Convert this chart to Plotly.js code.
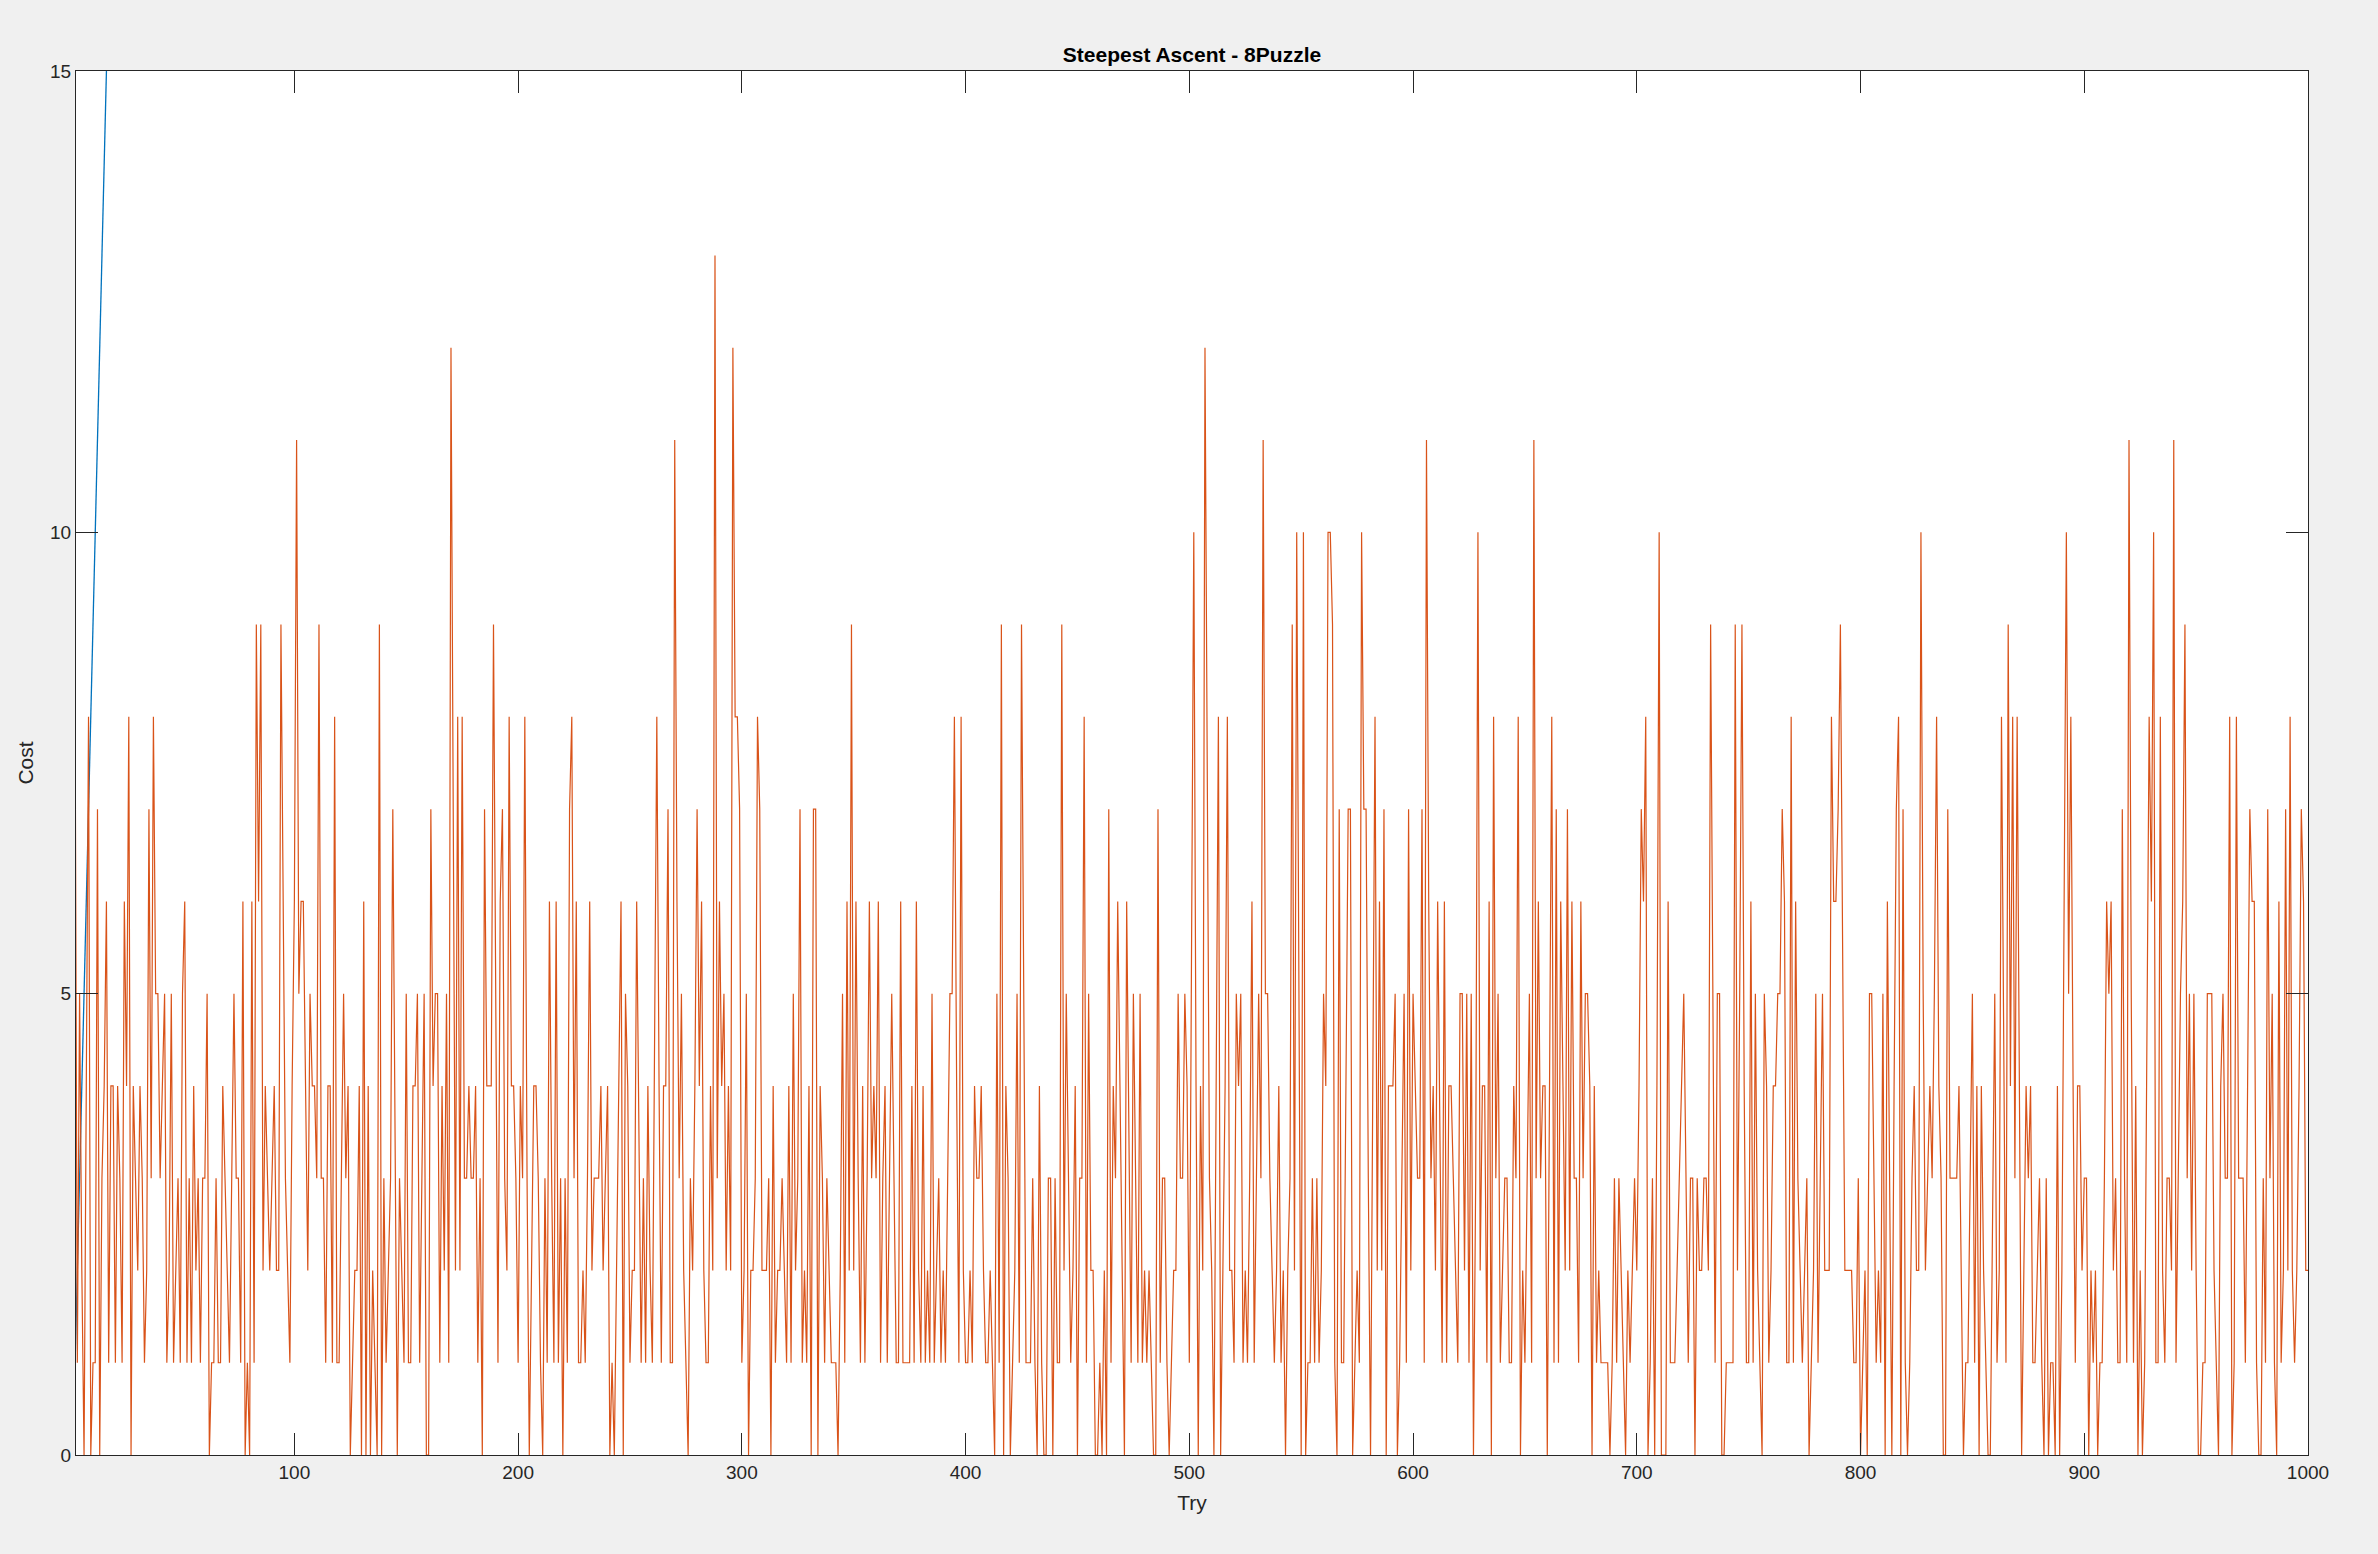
<!DOCTYPE html>
<html>
<head>
<meta charset="utf-8">
<script src="https://cdn.plot.ly/plotly-3.0.1.min.js"></script>
<style>html,body{margin:0;padding:0;background:#f0f0f0;}#chart{width:2378px;height:1554px;}</style>
</head>
<body>
<div id="chart"></div>
<script>
// Cost per try, in blocks of 100 tries
const cost001 = [1,8,1,5,2,0,4,8,0,1, 1,7,0,3,4,6,1,4,4,1, 4,3,1,6,4,8,0,4,3,2, 4,3,1,2,7,3,8,5,5,3, 4,5,1,2,5,1,2,3,1,5,
                 6,1,3,1,4,2,3,1,3,3, 5,0,1,1,3,1,1,4,3,2, 1,3,5,3,3,1,6,0,1,0, 6,1,9,6,9,2,4,3,2,3, 4,2,2,9,6,3,2,1,4,6];
const cost101 = [11,5,6,6,4,2,5,4,4,3, 9,3,3,1,4,4,1,8,1,1, 3,5,3,4,0,1,2,2,4,0, 6,0,4,0,2,1,0,9,0,3, 1,2,3,7,3,0,3,2,1,5,
                 1,1,4,4,5,1,3,5,0,0, 7,4,5,5,1,4,2,5,1,12, 7,2,8,2,8,3,3,4,3,3, 4,1,3,0,7,4,4,4,9,5, 1,6,7,3,2,8,4,4,3,1];
const cost201 = [4,3,8,3,0,2,4,4,3,1, 0,3,1,6,3,1,6,1,3,0, 3,1,7,8,3,6,1,1,2,1, 3,6,2,3,3,3,4,2,3,4, 0,1,0,2,4,6,0,5,4,1,
                 2,2,6,3,1,3,1,4,2,1, 4,8,4,1,4,4,7,1,1,11, 6,3,5,2,1,0,3,2,4,7, 4,6,2,1,1,4,2,13,3,6, 4,5,2,4,2,12,8,8,7,1];
const cost301 = [2,5,0,2,2,3,8,7,2,2, 2,3,0,4,1,2,2,3,2,1, 4,1,5,2,3,7,1,2,1,4, 0,7,7,0,4,3,1,3,2,1, 1,1,0,2,5,1,6,2,9,2,
                 6,3,1,4,1,3,6,3,4,3, 6,1,3,4,1,3,5,3,1,1, 6,1,1,1,1,4,1,6,2,1, 4,1,2,1,5,1,2,3,1,2, 1,3,5,5,8,4,1,8,2,1];
const cost401 = [1,2,1,4,3,3,4,2,1,1, 2,1,0,5,1,9,0,4,3,0, 1,2,5,1,9,5,1,1,1,3, 1,0,4,1,0,0,3,3,0,3, 1,1,9,2,5,3,1,2,4,0,
                 3,3,8,1,5,2,2,0,0,1, 0,2,0,7,1,4,3,6,4,2, 0,6,3,1,5,3,1,5,1,2, 1,2,1,0,0,7,1,3,3,1, 0,1,2,2,5,3,3,5,4,1];
const cost501 = [5,10,4,0,4,2,12,7,3,2, 0,4,8,0,2,4,8,2,2,1, 5,4,5,1,2,1,3,6,1,3, 5,3,11,5,5,3,2,1,2,4, 1,2,0,2,3,9,2,10,5,0,
                 10,0,1,1,3,1,3,1,2,5, 4,10,10,9,1,0,7,1,1,4, 7,7,0,1,2,1,10,7,7,3, 0,4,8,2,6,2,7,0,4,4, 4,5,0,1,3,5,1,7,2,5];
const cost601 = [4,3,3,7,1,11,6,3,4,2, 6,3,1,6,1,4,4,3,2,1, 5,5,2,5,1,5,0,3,10,2, 4,4,1,6,0,8,3,5,1,2, 3,3,1,1,4,3,8,0,2,1,
                 3,5,1,11,3,6,3,4,4,0, 4,8,1,7,1,6,4,2,7,2, 6,3,3,1,6,3,5,5,4,0, 4,1,2,1,1,1,1,0,1,3, 1,3,2,1,0,2,1,2,3,2];
const cost701 = [4,7,6,8,0,1,3,0,4,10, 0,0,0,6,1,1,1,2,3,4, 5,3,1,3,3,0,3,2,2,3, 3,2,9,5,1,5,5,0,0,1, 1,1,1,9,2,5,9,4,1,1,
                 6,1,5,2,1,0,5,4,1,2, 4,4,5,5,7,6,1,1,8,1, 6,3,2,1,2,3,0,1,2,5, 1,3,5,2,2,2,8,6,6,7, 9,5,2,2,2,2,1,1,3,0];
const cost801 = [1,2,0,5,5,3,1,2,1,5, 0,6,3,0,4,7,8,0,7,1, 0,1,3,4,2,2,10,5,2,3, 4,3,5,8,4,3,0,0,7,3, 3,3,3,4,2,0,1,1,3,5,
                 1,4,0,4,2,1,0,0,3,5, 1,2,8,4,1,9,4,8,3,8, 4,0,2,4,3,4,1,1,2,3, 1,0,3,0,1,1,0,4,0,2, 6,10,5,8,4,1,4,4,2,3];
const cost901 = [3,0,2,1,2,0,1,1,3,6, 5,6,2,3,1,1,7,3,1,11, 5,1,4,0,2,0,1,4,8,6, 10,1,1,8,2,1,3,3,2,11, 1,3,5,6,9,3,5,2,5,2,
                 0,0,1,1,5,5,5,2,1,0, 4,5,3,3,8,0,1,8,3,3, 3,1,4,7,6,6,1,0,0,3, 1,7,3,5,1,0,6,1,2,7, 2,8,2,1,2,4,7,6,2,2];

// Blue reference line (two points; it leaves the top of the axes)
const blueTry  = [1, 17];
const blueCost = [0, 16];

const xTicks = [100,200,300,400,500,600,700,800,900,1000];
const yTicks = [0,5,10,15];

const cost = [].concat(cost001,cost101,cost201,cost301,cost401,cost501,cost601,cost701,cost801,cost901);
const tries = cost.map((_, i) => i + 1);

const axisColor = '#262626';
const font = 'Liberation Sans, Arial, Helvetica, sans-serif';

const traces = [
  {x: blueTry, y: blueCost, type: 'scatter', mode: 'lines',
   line: {color: '#0072BD', width: 1.3}, hoverinfo: 'skip'},
  {x: tries, y: cost, type: 'scatter', mode: 'lines',
   line: {color: '#D95319', width: 1.2}}
];

const axisBase = {
  showgrid: false, zeroline: false, showline: true, mirror: 'ticks',
  linecolor: axisColor, linewidth: 1, ticks: 'inside', ticklen: 22,
  tickwidth: 1, tickcolor: axisColor,
  tickfont: {family: font, size: 19, color: axisColor}
};

const layout = {
  width: 2378, height: 1554,
  paper_bgcolor: '#f0f0f0', plot_bgcolor: '#ffffff',
  margin: {l: 76, r: 70, t: 71, b: 99},
  showlegend: false,
  title: {text: '<b>Steepest Ascent - 8Puzzle</b>', font: {family: font, size: 21, color: '#000000'},
          x: 0.5, xanchor: 'center', xref: 'paper', yref: 'container', y: 1 - 55/1554, yanchor: 'middle'},
  xaxis: Object.assign({}, axisBase, {
    range: [2.4, 1000], tickvals: xTicks, ticktext: xTicks.map(String),
    title: {text: 'Try', font: {family: font, size: 21, color: axisColor}, standoff: 13}
  }),
  yaxis: Object.assign({}, axisBase, {
    range: [0, 15], tickvals: yTicks, ticktext: yTicks.map(String),
    title: {text: 'Cost', font: {family: font, size: 21, color: axisColor}, standoff: 10}
  })
};

Plotly.newPlot('chart', traces, layout, {displayModeBar: false, staticPlot: true});
</script>
</body>
</html>
